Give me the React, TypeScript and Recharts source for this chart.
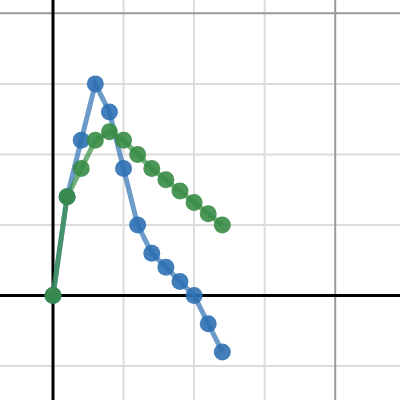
import { LineChart, Line, XAxis, YAxis, ReferenceLine } from 'recharts';

const xs = [0, 0.2, 0.4, 0.6, 0.8, 1.0, 1.2, 1.4, 1.6, 1.8, 2.0, 2.2, 2.4];
const blue = [0, 1.4, 2.2, 3.0, 2.6, 1.8, 1.0, 0.6, 0.4, 0.2, 0, -0.4, -0.8];
const green = [0, 1.4, 1.8, 2.2, 2.32, 2.2, 2.0, 1.8, 1.64, 1.48, 1.32, 1.16, 1.0];

const minorX = [1, 2, 3];
const majorX = [4];
const minorY = [-1, 1, 2, 3];
const majorY = [4];

const BLUE = '#2d70b3';
const GREEN = '#388c46';

const rows = xs.map((x, i) => ({ x, blue: blue[i], green: green[i] }));

// plain filled circle for every point
const dotOf = (color: string) => (p: any) => (
  <circle key={`${color}-${p.index}`} cx={p.cx} cy={p.cy} r={8.5} fill={color} fillOpacity={0.9} stroke="none" />
);

export default function App() {
  return (
    <div style={{ position: 'absolute', left: 0, top: 0, width: 400, height: 400, background: '#fff' }}>
      <LineChart width={400} height={400} data={rows} margin={{ top: 0, right: 0, bottom: 0, left: 0 }}>
        <XAxis type="number" dataKey="x" domain={[-0.751, 4.918]} allowDataOverflow hide />
        <YAxis type="number" domain={[-1.481, 4.189]} allowDataOverflow hide />
        {minorX.map(v => <ReferenceLine key={'mx' + v} x={v} stroke="#dcdcdc" strokeWidth={2} />)}
        {minorY.map(v => <ReferenceLine key={'my' + v} y={v} stroke="#dcdcdc" strokeWidth={2} />)}
        {majorX.map(v => <ReferenceLine key={'Mx' + v} x={v} stroke="#999" strokeWidth={2} />)}
        {majorY.map(v => <ReferenceLine key={'My' + v} y={v} stroke="#999" strokeWidth={2} />)}
        <ReferenceLine x={0} stroke="#000" strokeWidth={3} />
        <ReferenceLine y={0} stroke="#000" strokeWidth={3} />
        <Line
          type="linear"
          dataKey="blue"
          stroke={BLUE}
          strokeWidth={5}
          strokeOpacity={0.7}
          dot={dotOf(BLUE)}
          activeDot={false}
          isAnimationActive={false}
        />
        <Line
          type="linear"
          dataKey="green"
          stroke={GREEN}
          strokeWidth={5}
          strokeOpacity={0.7}
          dot={dotOf(GREEN)}
          activeDot={false}
          isAnimationActive={false}
        />
      </LineChart>
    </div>
  );
}
